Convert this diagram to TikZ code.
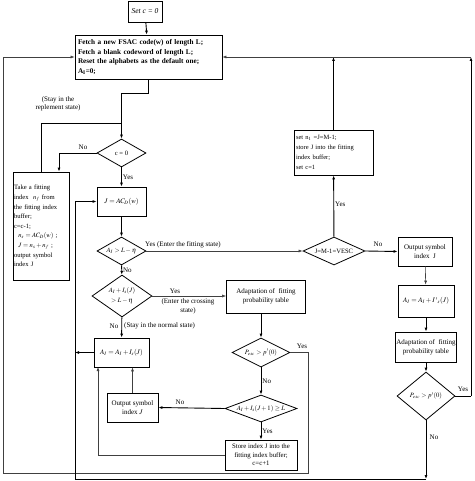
\documentclass[tikz,border=0pt]{standalone}
\usepackage{mathptmx}
\usepackage{fontspec}
\setmainfont{Liberation Serif}
\usetikzlibrary{shapes.geometric,arrows.meta}
\begin{document}
\begin{tikzpicture}[x=1pt,y=-1pt,
  every node/.style={font=\fontsize{7}{8.6}\selectfont},
  box/.style={draw,line width=0.8pt,inner sep=1pt,align=center},
  dia/.style={draw,diamond,line width=0.8pt,inner sep=-4pt,aspect=2.2,font=\fontsize{6.6}{8}\selectfont},
  lab/.style={inner sep=1pt},
  ln/.style={line width=0.9pt},
  thinln/.style={line width=0.6pt,black!75},
  arr/.style={ln,-{Latex[length=4pt,width=3pt]}},
  thinarr/.style={thinln,-{Latex[length=4pt,width=3pt]}}]
\useasboundingbox (0,0) rectangle (474,481);

% nodes
\node[box,minimum width=34pt,minimum height=21pt,font=\fontsize{7.5}{9}\selectfont\itshape] (set) at (145,11.5) {Set c = 0};
\node[box,minimum width=147pt,minimum height=44pt,align=left,font=\fontsize{7.2}{9.5}\selectfont\bfseries,text width=141pt] (fetch) at (148.5,57)
 {Fetch a new FSAC code(w) of length L;\\Fetch a blank codeword of length L;\\Reset the alphabets as the default one;\\A$_\mathbf{I}$=0;};
\node[dia,minimum width=49pt,minimum height=28pt] (c0) at (121.5,153) {c = 0};
\node[box,minimum width=56pt,minimum height=108pt,align=left,text width=54pt,inner sep=1pt,font=\fontsize{6.6}{9.6}\selectfont] (take) at (41,226)
 {Take a fitting\\index \ $n_f$ from\\the fitting index\\buffer;\\ c=c-1;\\ \ \ $n_s = AC_D(w)$ ;\\ \ \ $J = n_s + n_f$ ;\\output symbol\\index J};
\node[box,minimum width=49pt,minimum height=29pt] (jbox) at (121.5,201.5) {$J = AC_D(w)$};
\node[dia,minimum width=49pt,minimum height=28pt] (d1) at (121.5,251) {$A_I > L-\eta$};
\node[dia,minimum width=60pt,minimum height=42pt,align=center] (d2) at (122,296) {$A_I + I_s(J)$\\[2pt]$> L-\eta$};
\node[box,minimum width=55pt,minimum height=29pt] (ai1) at (121.5,352.5) {$A_I = A_I + I_s(J)$};
\node[box,minimum width=51pt,minimum height=29pt] (out1) at (132.5,407.5) {Output symbol\\index $J$};
\node[box,minimum width=79pt,minimum height=33pt] (ad1) at (266,296.5) {Adaptation of \ fitting\\probability table};
\node[dia,minimum width=58pt,minimum height=29pt] (pe1) at (261,352.5) {$P_{esc} > p'(0)$};
\node[dia,minimum width=72pt,minimum height=27pt,aspect=3] (d3) at (261,408.5) {$A_I + I_s(J+1) \ge L$};
\node[box,minimum width=72pt,minimum height=30pt,font=\fontsize{6.8}{8.4}\selectfont] (store) at (261,455) {Store index J into the\\fitting index buffer;\\c=c+1};
\node[dia,minimum width=62pt,minimum height=28pt] (vesc) at (334,251) {J=M-1=VESC};
\node[box,minimum width=79pt,minimum height=45pt,align=left,text width=75pt,font=\fontsize{6.5}{10}\selectfont] (setn) at (333.5,152.5)
 {set n$_1$ =J=M-1;\\store J into the fitting\\index buffer;\\set c=1};
\node[box,minimum width=54pt,minimum height=29pt] (out2) at (425,251.5) {Output symbol\\index \ J};
\node[box,minimum width=56pt,minimum height=32pt] (ai2) at (426,301) {$A_I = A_I + I\,'{}_s(J)$};
\node[box,minimum width=58pt,minimum height=30pt] (ad2) at (426,347) {Adaptation of \ fitting\\probability table};
\node[dia,minimum width=58pt,minimum height=48pt,aspect=1.4] (pe2) at (426,396) {$P_{esc} > p'(0)$};

% junction coordinates
\coordinate (fj) at (148.5,93);
\coordinate (cj) at (121.5,93);
\coordinate (tj) at (41,123);
\coordinate (rj) at (471,57);
\coordinate (nj) at (333.5,57);
\coordinate (lb) at (3,473);
\coordinate (lt) at (3,57);
\coordinate (mr) at (308,473);
\coordinate (bl) at (75,479);
\coordinate (br) at (426,479);
\coordinate (vj) at (75,201.5);
\coordinate (aj) at (75,352.5);
\coordinate (tn) at (59,153);

% connectors
\draw[arr] (set) -- (fetch);
\draw[arr] (fetch.south) -- (fj) -- (cj) -- (c0.north);
\draw[ln] (take.north -| tj) -- (tj) -- (tj -| cj);
\draw[arr] (c0.west) -- (tn) -- (take.north -| tn);
\node[lab] at (83,147) {No};
\draw[arr] (c0) -- (jbox) node[midway,right,lab] {Yes};
\draw[arr] (jbox) -- (d1);
\draw[thinarr] (d1.east) -- (vesc.west);
\node[lab,anchor=west] at (144,244.5) {Yes (Enter the fitting state)};
\draw[arr] (d1) -- (d2) node[midway,right,lab] {No};
\draw[thinarr] (d2.east) -- (ad1.west |- d2.east);
\node[lab] at (175,291) {Yes};
\node[lab,align=center] at (188,306.5) {(Enter the crossing\\state)};
\draw[arr] (d2) -- (ai1);
\node[lab] at (114,326) {No};
\node[lab,anchor=west] at (123,326) {(Stay in the normal state)};
\draw[arr] (ad1.south -| pe1) -- (pe1.north);
\draw[arr] (pe1) -- (d3) node[midway,right,lab] {No};
\draw[thinln] (pe1.east) -- (pe1.east -| mr) -- (mr) -- (lb) -- (lt);
\draw[thinarr] (lt) -- (fetch.west);
\node[lab] at (302,346) {Yes};
\draw[arr] (d3.west) -- (out1.east);
\node[lab] at (180,402) {No};
\draw[arr] (d3) -- (store) node[midway,right,lab] {Yes};
\draw[thinarr] (store.west) -- (98,455) -- (98,367);
\draw[thinarr] (out1.north) -- (ai1.south -| out1.north);
\draw[arr] (ai1.west) -- (aj);
\draw[ln] (br) -- (bl);
\draw[arr] (bl) -- (vj) -- (jbox.west);
\draw[arr] (vesc) -- (setn) node[midway,right,lab,yshift=2pt] {Yes};
\draw[arr] (setn.north) -- (nj);
\draw[arr] (vesc.east) -- (out2.west);
\node[lab] at (378,244) {No};
\draw[thinarr] (out2) -- (ai2);
\draw[arr] (ai2) -- (ad2);
\draw[arr] (ad2) -- (pe2);
\draw[ln] (pe2.east) -- (pe2.east -| rj);
\draw[arr] (pe2.east -| rj) -- (rj);
\draw[thinarr] (rj) -- (fetch.east);
\node[lab] at (463,389) {Yes};
\draw[arr] (pe2.south) -- (br);
\node[lab] at (434,437) {No};
\node[lab,align=center] at (58,104) {(Stay in the\\replement state)};
\end{tikzpicture}
\end{document}
